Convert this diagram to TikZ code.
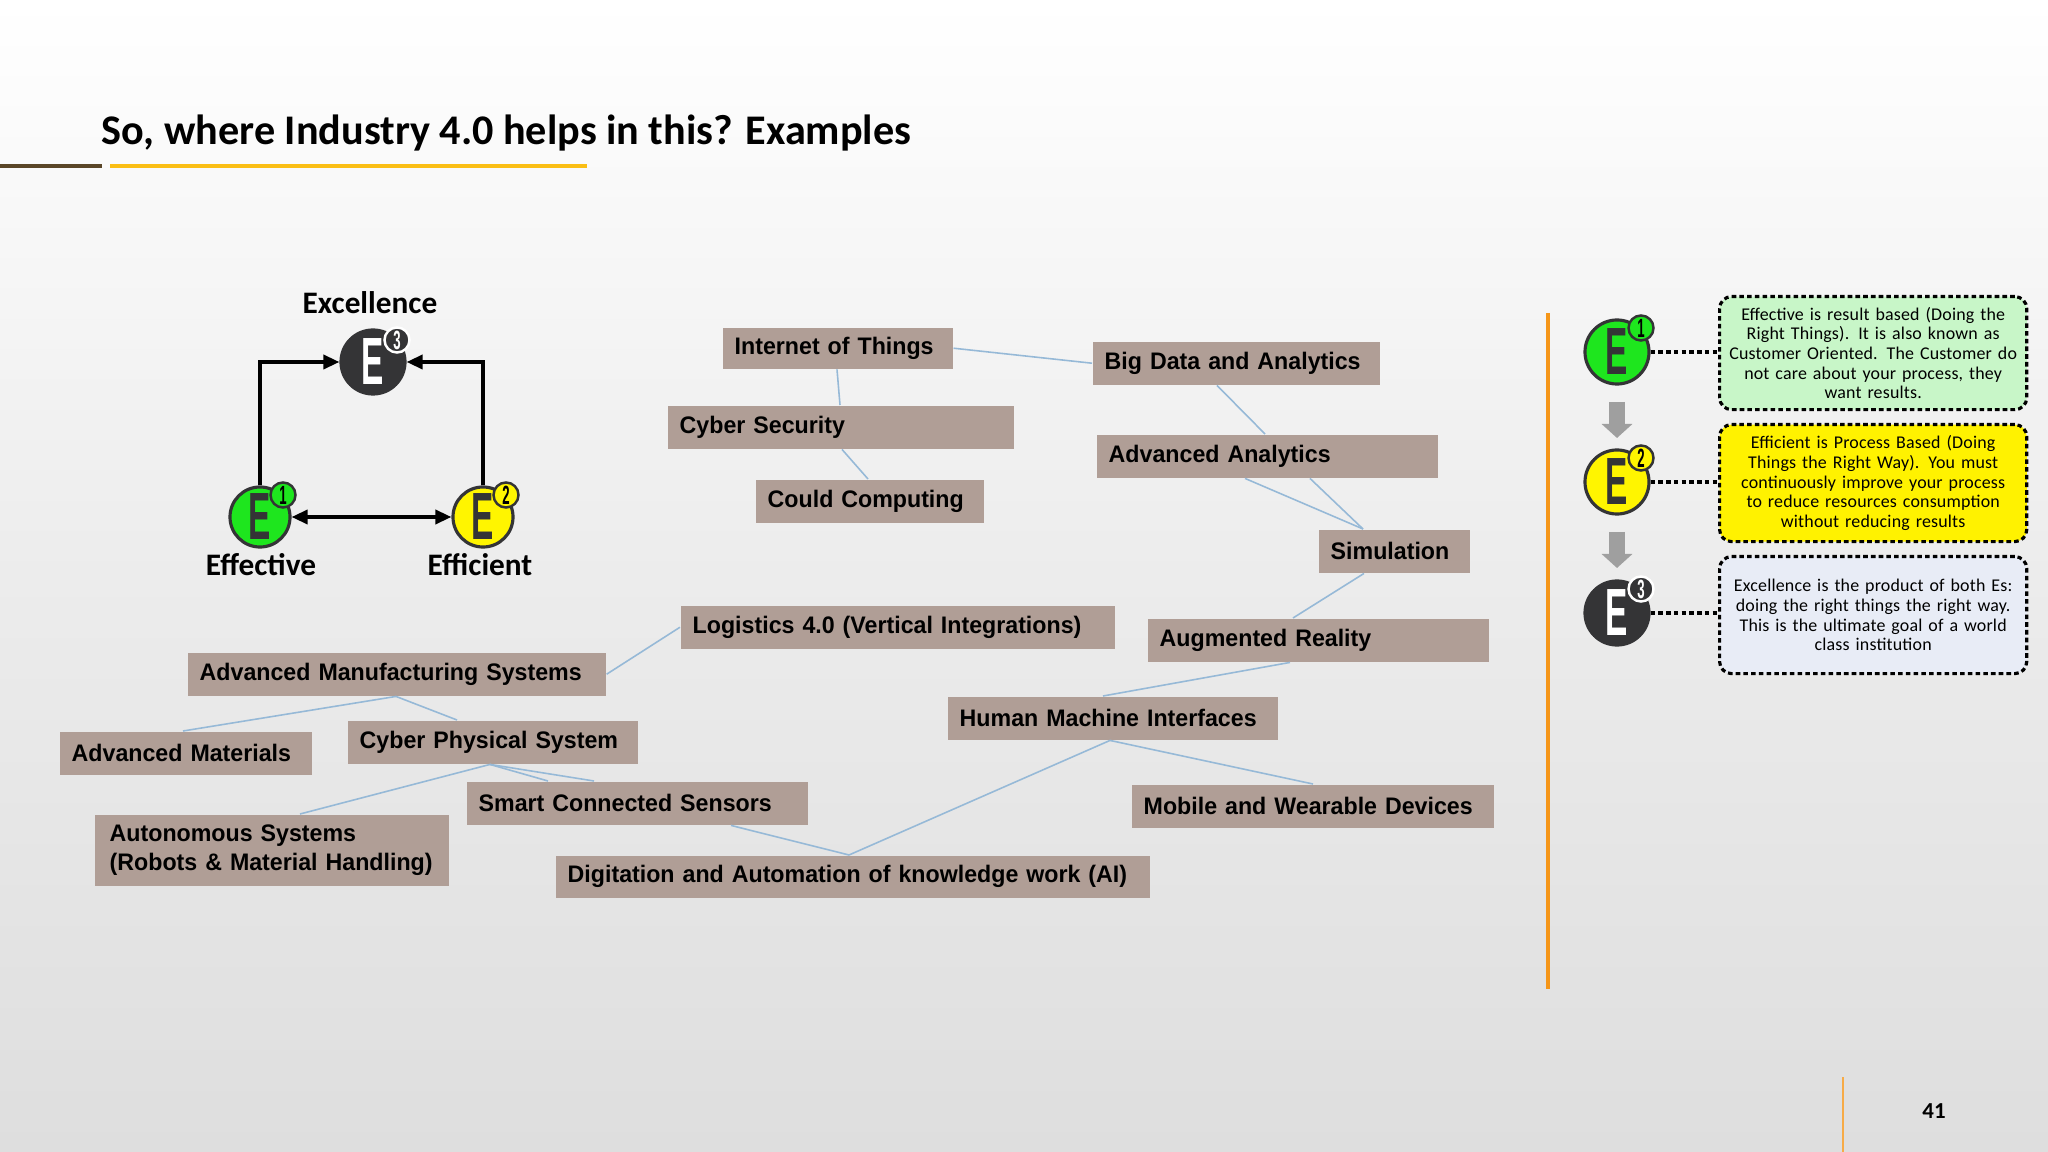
\documentclass[tikz,border=0pt]{standalone}
\usepackage{fontspec}
\usepackage[none]{hyphenat}
\setmainfont{Carlito}
\newfontfamily\descfont[LetterSpace=1]{Carlito}
\newfontfamily\boxfont[FakeStretch=0.97]{Liberation Sans}
\newfontfamily\efont[FakeStretch=0.5]{Liberation Sans}
\usetikzlibrary{calc,arrows.meta}
\definecolor{boxfill}{RGB}{176,158,150}
\definecolor{linkblue}{RGB}{150,185,215}
\definecolor{edark}{RGB}{52,52,54}
\definecolor{egreen}{RGB}{30,230,30}
\definecolor{eyellow}{RGB}{255,245,0}
\definecolor{orangeline}{RGB}{245,150,25}
\definecolor{goldline}{RGB}{250,190,20}
\definecolor{brownline}{RGB}{90,70,40}
\definecolor{lightgreen}{RGB}{200,246,200}
\definecolor{lightblue}{RGB}{232,236,246}
\begin{document}
\begin{tikzpicture}[x=0.01cm,y=-0.01cm,
  tbox/.style={fill=boxfill,anchor=north west,inner xsep=0.12cm,inner ysep=0pt,align=left,
    font=\boxfont\fontsize{6.8pt}{8.2pt}\selectfont\bfseries},
  link/.style={draw=linkblue,line width=0.45pt},
  ecirc/.style={circle,draw=edark,line width=0.9pt,inner sep=0pt,font=\efont\bfseries\fontsize{19pt}{19pt}\selectfont},
  badge/.style={circle,draw=edark,line width=0.7pt,inner sep=0pt,minimum size=0.25cm,font=\efont\bfseries\fontsize{7.5pt}{7.5pt}\selectfont},
  blk/.style={-{Triangle[length=0.16cm,width=0.14cm]},line width=1pt,black},
  lbl/.style={font=\fontsize{8.9pt}{10pt}\selectfont\bfseries},
  desc/.style={draw=black,dash pattern=on 1.3pt off 0.9pt,line width=0.9pt,rounded corners=0.12cm,anchor=north west,align=center,
    font=\descfont\fontsize{5.1pt}{5.6pt}\selectfont,inner sep=0pt},
  dconn/.style={draw=black,dash pattern=on 1.3pt off 0.9pt,line width=0.9pt},
  garrow/.style={-{Triangle[length=0.14cm,width=0.3cm]},line width=0.16cm,draw=gray!75}
]
\useasboundingbox (0,0) rectangle (2048,1152);
\shade[top color=white,bottom color={rgb,255:red,222;green,222;blue,222},middle color={rgb,255:red,236;green,236;blue,236}] (0,0) rectangle (2048,1152);

% title
\node[anchor=base west,font=\fontsize{12pt}{14pt}\selectfont\bfseries,inner sep=0pt] (title) at (101,145) {So, where Industry 4.0 helps in this? Examples};
\coordinate (tl0) at (0,166);
\coordinate (tl1) at (102,166);
\coordinate (tl2) at (110,166);
\coordinate (tl3) at (587,166);
\draw[brownline,line width=1.1pt] (tl0) -- (tl1);
\draw[goldline,line width=1.4pt] (tl2) -- (tl3);

% orange dividers
\coordinate (o1) at (1548,313); \coordinate (o2) at (1548,989);
\draw[orangeline,line width=1.3pt] (o1) -- (o2);
\coordinate (p1) at (1843,1077); \coordinate (p2) at (1843,1152);
\draw[orangeline!80,line width=0.6pt] (p1) -- (p2);
\node[font=\fontsize{6.5pt}{8pt}\selectfont\bfseries] (pg) at (1934,1111) {41};

% boxes
\node[tbox,text width=2.06cm,minimum height=0.41cm] (iot) at (722,327) {Internet of Things};
\node[tbox,text width=2.63cm,minimum height=0.43cm] (bd) at (1092,341) {Big Data and Analytics};
\node[tbox,text width=3.22cm,minimum height=0.43cm] (cs) at (667,405) {Cyber Security};
\node[tbox,text width=3.17cm,minimum height=0.43cm] (aa) at (1096,434) {Advanced Analytics};
\node[tbox,text width=2.04cm,minimum height=0.43cm] (cc) at (755,479) {Could Computing};
\node[tbox,text width=1.27cm,minimum height=0.43cm] (sim) at (1318,529) {Simulation};
\node[tbox,text width=4.10cm,minimum height=0.43cm] (log) at (680,605) {Logistics 4.0 (Vertical Integrations)};
\node[tbox,text width=3.17cm,minimum height=0.43cm] (ar) at (1147,618) {Augmented Reality};
\node[tbox,text width=3.94cm,minimum height=0.43cm] (ams) at (187,652) {Advanced Manufacturing Systems};
\node[tbox,text width=3.06cm,minimum height=0.43cm] (hmi) at (947,696) {Human Machine Interfaces};
\node[tbox,text width=2.28cm,minimum height=0.43cm] (am) at (59,731) {Advanced Materials};
\node[tbox,text width=2.66cm,minimum height=0.43cm] (cps) at (347,720) {Cyber Physical System};
\node[tbox,text width=3.17cm,minimum height=0.43cm] (scs) at (466,781) {Smart Connected Sensors};
\node[tbox,text width=3.38cm,minimum height=0.43cm] (mob) at (1131,784) {Mobile and Wearable Devices};
\node[tbox,text width=3.24cm,minimum height=0.71cm,inner xsep=0.15cm] (auto) at (94,814) {Autonomous Systems\\(Robots \& Material Handling)};
\node[tbox,text width=5.70cm,minimum height=0.42cm] (dig) at (555,855) {Digitation and Automation of knowledge work (AI)};

% links
\draw[link] ($(iot.south west)+(115,0)$) -- ($(cs.north west)+(173,0)$);
\draw[link] (iot.east) -- (bd.west);
\draw[link] ($(bd.south west)+(125,0)$) -- ($(aa.north west)+(169,0)$);
\draw[link] ($(cs.south west)+(175,0)$) -- ($(cc.north west)+(113,0)$);
\draw[link] ($(aa.south west)+(149,0)$) -- ($(sim.north west)+(45,0)$);
\draw[link] ($(aa.south west)+(214,0)$) -- ($(sim.north west)+(45,0)$);
\draw[link] ($(sim.south west)+(46,0)$) -- ($(ar.north west)+(146,0)$);
\draw[link] ($(ar.south west)+(143,0)$) -- ($(hmi.north west)+(156,0)$);
\draw[link] (log.west) -- (ams.east);
\draw[link] ($(ams.south west)+(209,0)$) -- ($(am.north west)+(124,0)$);
\draw[link] ($(ams.south west)+(209,0)$) -- ($(cps.north west)+(110,0)$);
\draw[link] ($(cps.south west)+(143,0)$) -- ($(auto.north west)+(206,0)$);
\draw[link] ($(cps.south west)+(143,0)$) -- ($(scs.north west)+(82,0)$);
\draw[link] ($(cps.south west)+(143,0)$) -- ($(scs.north west)+(128,0)$);
\draw[link] ($(scs.south west)+(265,0)$) -- ($(dig.north west)+(294,0)$);
\draw[link] ($(dig.north west)+(294,0)$) -- ($(hmi.south west)+(163,0)$);
\draw[link] ($(hmi.south west)+(163,0)$) -- ($(mob.north west)+(182,0)$);

% left E diagram
\node[lbl] (lexc) at (370,303) {Excellence};
\node[ecirc,fill=edark,text=white,minimum size=0.64cm] (le3) at (373,362) {E};
\node[badge,fill=edark,text=white,draw=white] (lb3) at ($(le3)+(24,-22)$) {3};
\node[ecirc,fill=egreen,text=edark,minimum size=0.6cm] (le1) at (260,517) {E};
\node[badge,fill=egreen] (lb1) at ($(le1)+(23,-22)$) {1};
\node[ecirc,fill=eyellow,text=edark,minimum size=0.6cm] (le2) at (483,517) {E};
\node[badge,fill=eyellow] (lb2) at ($(le2)+(23,-22)$) {2};
\node[lbl] (leff) at (261,565) {Effective};
\node[lbl] (lefi) at (480,565) {Efficient};
\draw[blk] (le1.north) |- (le3.west);
\draw[blk] (le2.north) |- (le3.east);
\draw[blk,{Triangle[length=0.16cm,width=0.14cm]}-{Triangle[length=0.16cm,width=0.14cm]}] (le1.east) -- (le2.west);

% right E column
\node[ecirc,fill=egreen,text=edark,minimum size=0.64cm] (re1) at (1617,352) {E};
\node[badge,fill=egreen] (rb1) at ($(re1)+(24,-24)$) {1};
\node[ecirc,fill=eyellow,text=edark,minimum size=0.64cm] (re2) at (1617,482) {E};
\node[badge,fill=eyellow] (rb2) at ($(re2)+(24,-24)$) {2};
\node[ecirc,fill=edark,text=white,minimum size=0.64cm] (re3) at (1617,613) {E};
\node[badge,fill=edark,text=white,draw=white] (rb3) at ($(re3)+(24,-24)$) {3};
\coordinate (ga1) at (1617,402); \coordinate (ga2) at (1617,438);
\coordinate (gb1) at (1617,532); \coordinate (gb2) at (1617,568);
\draw[garrow] (ga1) -- (ga2);
\draw[garrow] (gb1) -- (gb2);

\node[desc,fill=lightgreen,minimum width=3.07cm,minimum height=1.13cm,text width=3.05cm] (d1) at (1718,295)
 {Effective is result based (Doing the\\Right Things). It is also known as\\Customer Oriented. The Customer do\\not care about your process, they\\want results.};
\node[desc,fill=yellow,minimum width=3.07cm,minimum height=1.17cm,text width=3.05cm] (d2) at (1718,423)
 {Efficient is Process Based (Doing\\Things the Right Way). You must\\continuously improve your process\\to reduce resources consumption\\without reducing results};
\node[desc,fill=lightblue,minimum width=3.07cm,minimum height=1.17cm,text width=3.05cm] (d3) at (1718,555)
 {Excellence is the product of both Es:\\doing the right things the right way.\\This is the ultimate goal of a world\\class institution};
\draw[dconn] (re1.east) -- (re1.east -| d1.west);
\draw[dconn] (re2.east) -- (re2.east -| d2.west);
\draw[dconn] (re3.east) -- (re3.east -| d3.west);
\end{tikzpicture}
\end{document}
